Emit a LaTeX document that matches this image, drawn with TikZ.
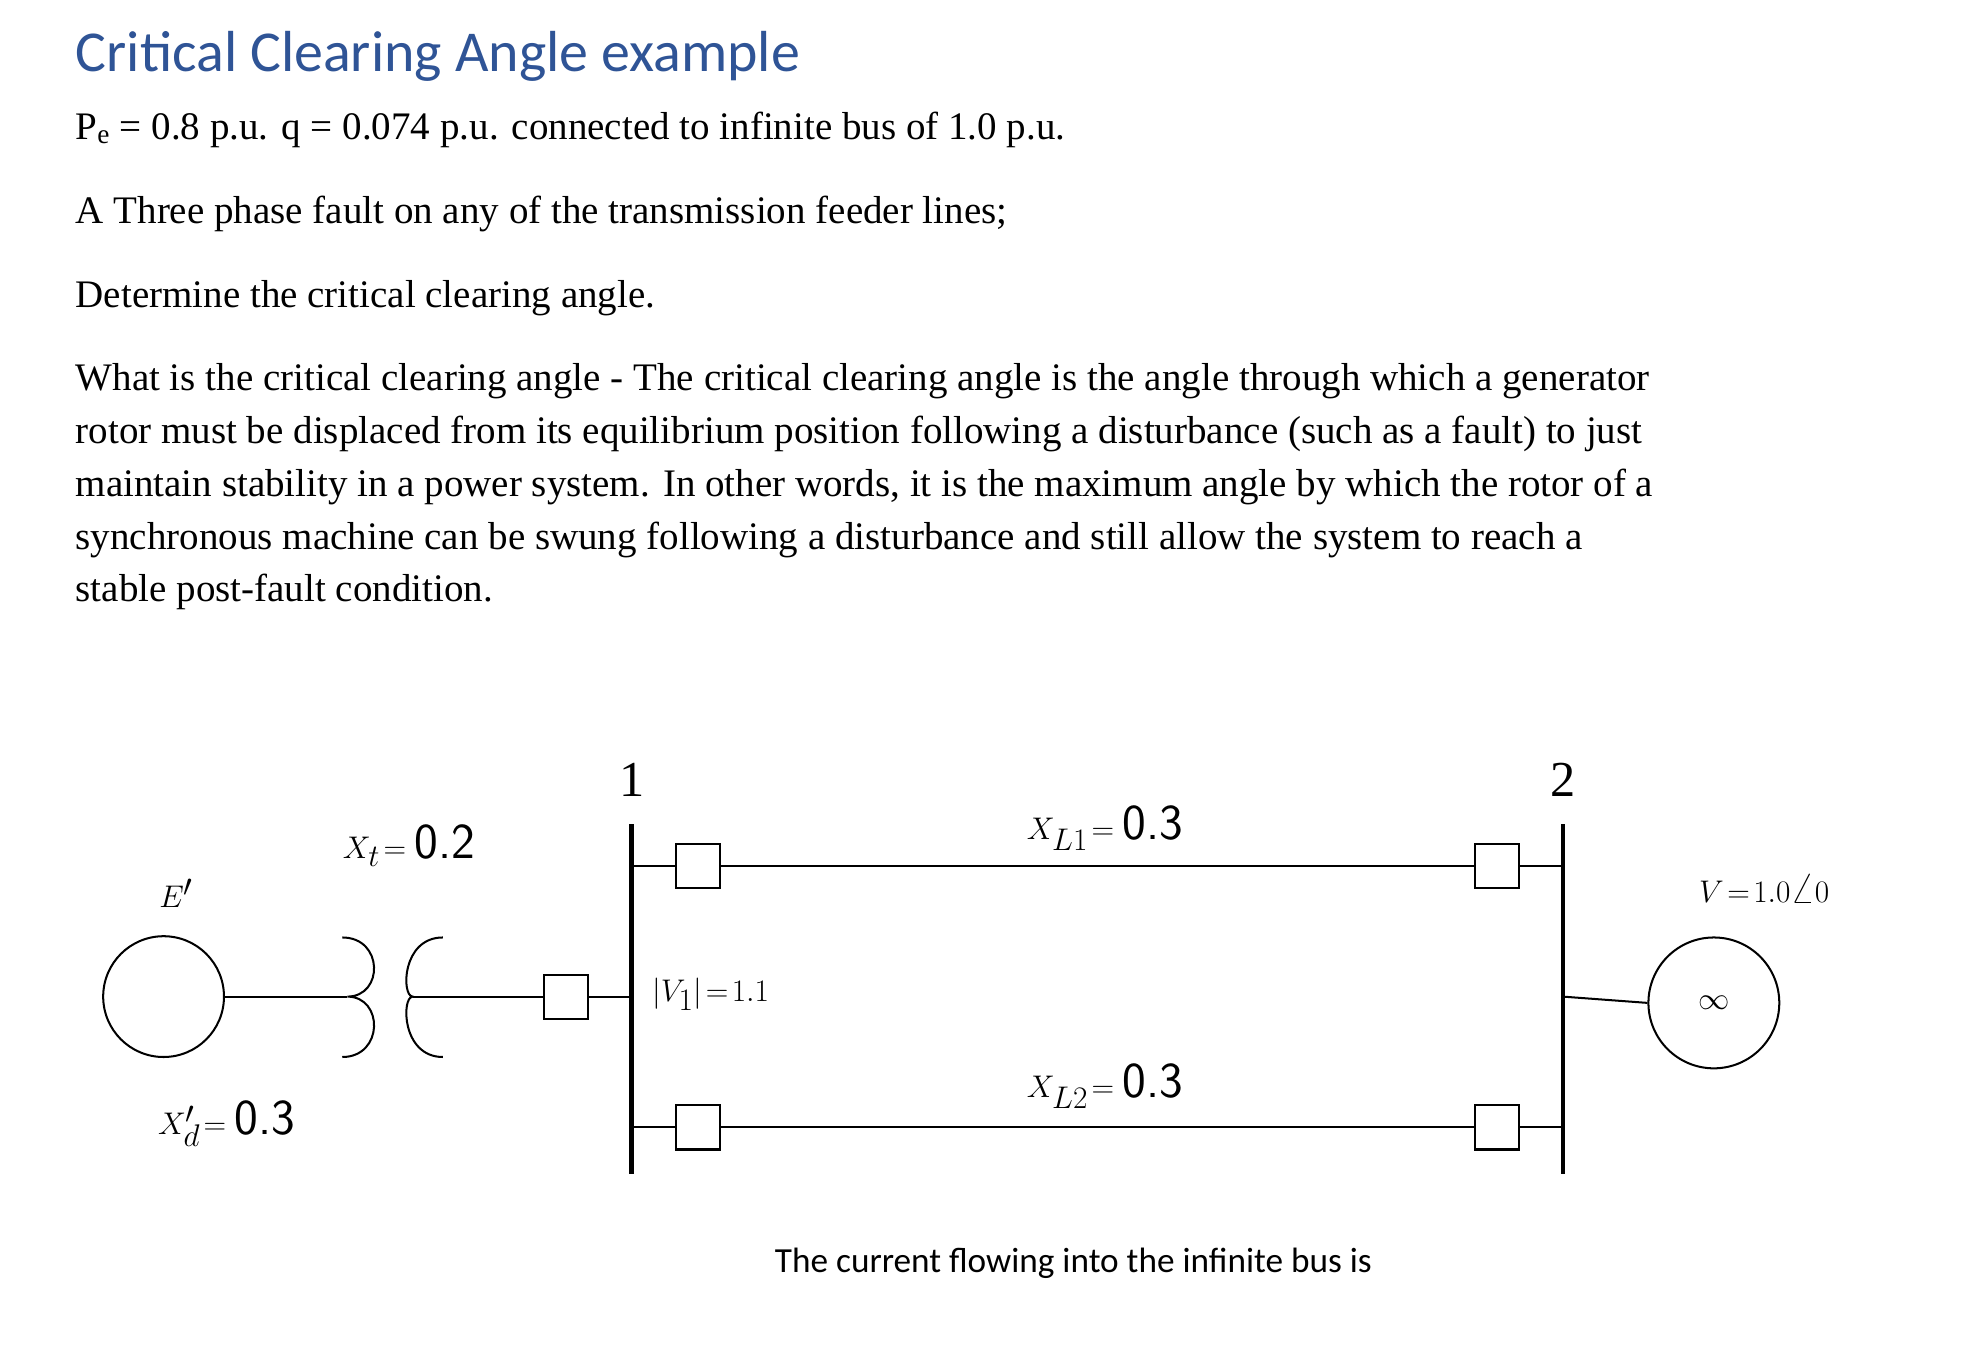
\documentclass[tikz,border=0pt]{standalone}
\usepackage{fontspec}
\setmainfont{Liberation Serif}
\newfontfamily\calfnt{Carlito}
\definecolor{titleblue}{RGB}{47,84,150}
\begin{document}
\begin{tikzpicture}[x=1pt,y=-1pt,
  body/.style={anchor=west,inner sep=0,font=\fontsize{31}{36}\selectfont},
  lbl/.style={inner sep=0,font=\fontsize{40}{44}\selectfont},
  wire/.style={line width=1.6pt},
  busbar/.style={line width=3.5pt},
  brk/.style={draw,line width=1.6pt,fill=white,minimum width=35pt,minimum height=35pt,inner sep=0}]
\useasboundingbox (0,0) rectangle (1560,1075);
\node[anchor=west,inner sep=0,text=titleblue,font=\calfnt\fontsize{46}{50}\selectfont] (title) at (60,45) {Critical Clearing Angle example};
\node[body] (l1) at (60,103) {P\textsubscript{e} = 0.8 p.u. q = 0.074 p.u. connected to infinite bus of 1.0 p.u.};
\node[body] (l2) at (60,170) {A Three phase fault on any of the transmission feeder lines;};
\node[body] (l3) at (60,237) {Determine the critical clearing angle.};
\node[body] (p1) at (60,303) {What is the critical clearing angle - The critical clearing angle is the angle through which a generator};
\node[body] (p2) at (60,345) {rotor must be displaced from its equilibrium position following a disturbance (such as a fault) to just};
\node[body] (p3) at (60,387) {maintain stability in a power system. In other words, it is the maximum angle by which the rotor of a};
\node[body] (p4) at (60,429) {synchronous machine can be swung following a disturbance and still allow the system to reach a};
\node[body] (p5) at (60,470) {stable post-fault condition.};

% generator
\node[draw,wire,circle,minimum width=96pt,minimum height=96pt,inner sep=0] (gen) at (130,792) {};
\coordinate (t1) at (276,792);
\coordinate (t2) at (328,792);
\draw[wire] (gen.east) -- (t1);
% transformer coils
\draw[wire] (272,745) .. controls (305,745) and (305,792) .. (t1) .. controls (305,792) and (305,840) .. (272,840);
\draw[wire] (352,745) .. controls (319,745) and (319,792) .. (t2) .. controls (319,792) and (319,840) .. (352,840);
\node[brk] (b0) at (450,792) {};
\coordinate (bus1top) at (502,655);
\coordinate (bus1bot) at (502,933);
\coordinate (bus1m) at (502,792);
\draw[busbar] (bus1top) -- (bus1bot);
\draw[wire] (t2) -- (b0) -- (bus1m);
\coordinate (bus2top) at (1242,655);
\coordinate (bus2bot) at (1242,933);
\coordinate (bus2m) at (1242,792);
\draw[busbar] (bus2top) -- (bus2bot);
\node[brk] (b1) at (555,688) {};
\node[brk] (b2) at (1190,688) {};
\node[brk] (b3) at (555,896) {};
\node[brk] (b4) at (1190,896) {};
\draw[wire] (502,688) -- (b1) -- (b2) -- (1242,688);
\draw[wire] (502,896) -- (b3) -- (b4) -- (1242,896);
\node[draw,wire,circle,minimum width=104pt,minimum height=104pt,inner sep=0,font=\fontsize{40}{40}\selectfont] (inf) at (1362,797) {$\infty$};
\draw[wire] (bus2m) -- (inf.west);

\node[lbl] (n1) at (502,620) {1};
\node[lbl] (n2) at (1242,620) {2};
\node[lbl] (E) at (140,710) {$E'$};
\node[lbl] (Xt) at (325,672) {$X_t\!=$\,\textsf{0.2}};
\node[lbl] (Xd) at (180,893) {$X_d'\!=$\,\textsf{0.3}};
\node[lbl,anchor=west] (V1) at (518,790) {$|V_1|\!=\!1.1$};
\node[lbl] (XL1) at (878,658) {$X_{L1}\!=$\,\textsf{0.3}};
\node[lbl] (XL2) at (878,863) {$X_{L2}\!=$\,\textsf{0.3}};
\node[lbl] (V) at (1402,706) {$V\!=\!1.0\angle 0$};
\node[inner sep=0,font=\calfnt\fontsize{28}{30}\selectfont] (cap) at (853,1004) {The current flowing into the infinite bus is};
\end{tikzpicture}
\end{document}
